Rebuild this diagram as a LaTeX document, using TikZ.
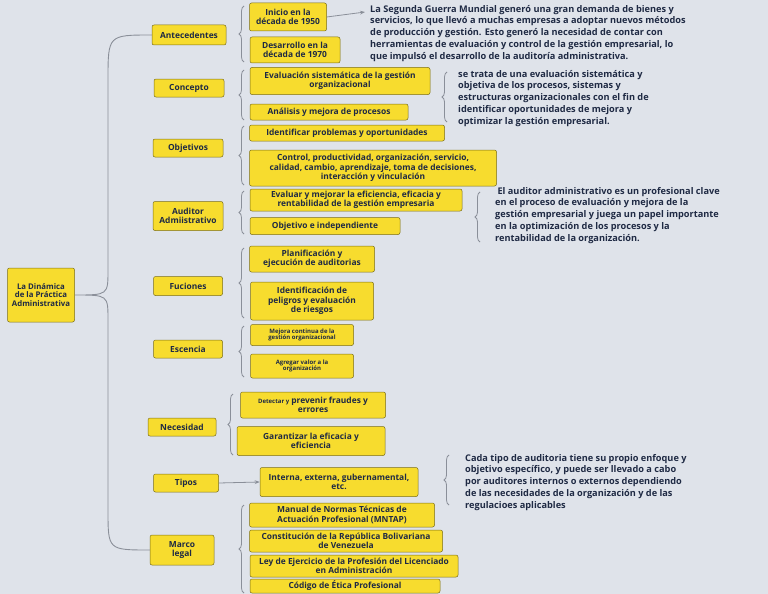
\documentclass[tikz,border=0pt]{standalone}
\usepackage{fontspec}
\setmainfont{Open Sans}
\usetikzlibrary{decorations.pathreplacing,arrows.meta}
\definecolor{bg}{HTML}{DFE3EA}
\definecolor{yl}{HTML}{F7DC2E}
\definecolor{tx}{HTML}{1F2A44}
\definecolor{ln}{HTML}{8A8F99}
\newcommand{\bx}[7][8.4pt]{\node[box,font=\fontsize{#1}{1.12\dimexpr#1\relax}\selectfont\bfseries,minimum width=#5pt,minimum height=#6pt] (#2) at (#3,#4) {#7};}
\newcommand{\brc}[4]{\draw[ln,line width=0.8pt,decorate,decoration={brace,amplitude=5pt}] (#1,#3) -- (#1,#2);}
\begin{document}
\begin{tikzpicture}[x=1pt,y=-1pt,
  box/.style={draw=yl!50!black,line width=0.5pt,fill=yl,rounded corners=2pt,align=center,text=tx,inner sep=1pt},
  para/.style={text=tx,font=\fontsize{9.2}{11.7}\selectfont\bfseries,align=left,anchor=north west,inner sep=0pt}]
\fill[bg] (0,0) rectangle (768,594);
\useasboundingbox (0,0) rectangle (768,594);
\bx[7.8pt]{main}{41}{295}{67}{54}{La Dinámica\\de la Práctica\\Administrativa}
\bx{ant}{189}{35}{74}{20}{Antecedentes}
\bx{a1}{288}{17}{77}{28}{Inicio en la\\década de 1950}
\bx{a2}{295}{50}{90}{26}{Desarrollo en la\\década de 1970}
\bx{con}{189}{88}{70}{18}{Concepto}
\bx{c1}{340}{81}{180}{27}{Evaluación sistemática de la gestión\\organizacional}
\bx{c2}{329}{112}{158}{16}{Análisis y mejora de procesos}
\bx{obj}{188}{148}{70}{18}{Objetivos}
\bx{o1}{347}{133}{195}{16}{Identificar problemas y oportunidades}
\bx{o2}{373}{168}{247}{36}{Control, productividad, organización, servicio,\\calidad, cambio, aprendizaje, toma de decisiones,\\interacción y vinculación}
\bx{aud}{188}{216}{70}{29}{Auditor\\Admiistrativo}
\bx{u1}{356}{200}{212}{22}{Evaluar y mejorar la eficiencia, eficacia y\\rentabilidad de la gestión empresaria}
\bx{u2}{325}{226}{150}{17}{Objetivo e independiente}
\bx{fun}{188}{286}{69}{19}{Fuciones}
\bx{f1}{312}{259}{125}{26}{Planificación y\\ejecución de auditorias}
\bx{f2}{312}{301}{123}{38}{Identificación de\\peligros y evaluación\\de riesgos}
\bx{esc}{188}{349}{69}{18}{Escencia}
\bx[6pt]{e1}{302}{335}{103}{21}{Mejora continua de la\\gestión organizacional}
\bx[6pt]{e2}{302}{366}{103}{24}{Agregar valor a la\\organización}
\bx{nec}{182}{427}{68}{18}{Necesidad}
\bx{n1}{313}{405}{145}{26}{{\fontsize{6}{7}\selectfont Detectar y} prevenir fraudes y\\errores}
\bx{n2}{311}{441}{148}{29}{Garantizar la eficacia y\\eficiencia}
\bx{tip}{186}{483}{65}{18}{Tipos}
\bx{t1}{339}{482}{158}{29}{Interna, externa, gubernamental,\\etc.}
\bx{mar}{182}{550}{64}{30}{Marco\\legal}
\bx{m1}{342}{515}{185}{24}{Manual de Normas Técnicas de\\Actuación Profesional (MNTAP)}
\bx{m2}{346}{541}{193}{22}{Constitución de la República Bolivariana\\de Venezuela}
\bx{m3}{354}{566}{208}{22}{Ley de Ejercicio de la Profesión del Licenciado\\en Administración}
\bx{m4}{345}{586}{190}{14}{Código de Ética Profesional}
% texts
\node[para] (p1) at (370,5) {La Segunda Guerra Mundial generó una gran demanda de bienes y\\servicios, lo que llevó a muchas empresas a adoptar nuevos métodos\\de producción y gestión. Esto generó la necesidad de contar con\\herramientas de evaluación y control de la gestión empresarial, lo\\que impulsó el desarrollo de la auditoría administrativa.};
\node[para] (p2) at (458,70) {se trata de una evaluación sistemática y\\objetiva de los procesos, sistemas y\\estructuras organizacionales con el fin de\\identificar oportunidades de mejora y\\optimizar la gestión empresarial.};
\node[para] (p3) at (495,187) {\ El auditor administrativo es un profesional clave\\en el proceso de evaluación y mejora de la\\gestión empresarial y juega un papel importante\\en la optimización de los procesos y la\\rentabilidad de la organización.};
\node[para] (p4) at (465,454) {Cada tipo de auditoria tiene su propio enfoque y\\objetivo específico, y puede ser llevado a cabo\\por auditores internos o externos dependiendo\\de las necesidades de la organización y de las\\regulacioes aplicables};
% main brace
\draw[ln,line width=0.9pt] (ant.west) .. controls (108,35) .. (108,80) -- (108,270) .. controls (108,295) .. (main.east) .. controls (108,295) .. (108,320) -- (108,510) .. controls (108,550) .. (mar.west);
% small braces
\brc{244}{6}{62}{}
\brc{244}{70}{120}{}
\brc{244}{126}{185}{}
\brc{244}{191}{234}{}
\brc{244}{248}{318}{}
\brc{244}{326}{377}{}
\brc{233}{394}{455}{}
\brc{244}{505}{593}{}
\brc{447}{72}{122}{}
\brc{480}{192}{242}{}
\brc{449}{455}{505}{}
\draw[ln,line width=0.8pt,-{Stealth[length=5pt]}] (a1.east) -- (365,12);
\draw[ln,line width=0.8pt,-{Stealth[length=5pt]}] (tip.east) -- (t1.west);
\end{tikzpicture}
\end{document}
